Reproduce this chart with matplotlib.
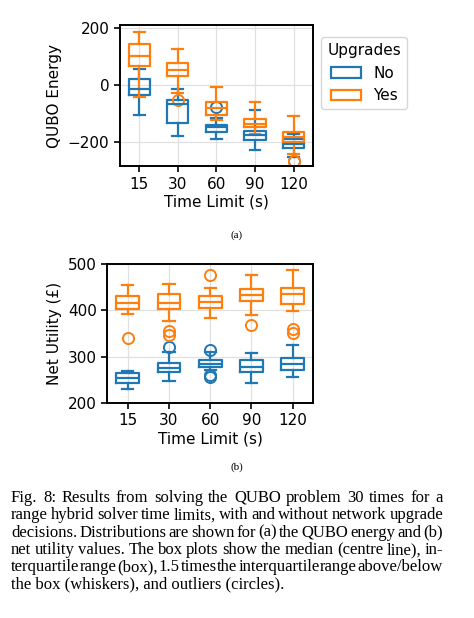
import matplotlib
matplotlib.use('Agg')
import matplotlib.pyplot as plt
from matplotlib.patches import Patch

times = ['15', '30', '60', '90', '120']

# QUBO energy box stats: (whislo, q1, med, q3, whishi), outliers
qubo_no = [(-104, -35, -14, 20, 56), (-180, -133, -68, -51, -12), (-188, -165, -147, -139, -115),
           (-229, -194, -176, -161, -86), (-253, -221, -206, -188, -171)]
qubo_no_fl = [[], [], [-76], [], [-265]]
qubo_yes = [(-40, 67, 103, 145, 186), (-29, 32, 53, 79, 126), (-124, -104, -79, -61, -8),
            (-171, -147, -135, -118, -59), (-241, -200, -182, -165, -108)]
qubo_yes_fl = [[], [-53], [], [], [-265]]

# net utility box stats
util_no = [(230, 243, 254, 264, 269), (248, 267, 276, 287, 309), (272, 278, 285, 292, 310),
           (242, 266, 278, 292, 308), (255, 272, 285, 296, 325)]
util_no_fl = [[], [321], [315, 260, 256], [], []]
util_yes = [(391, 403, 415, 431, 455), (377, 403, 415, 434, 457), (384, 404, 417, 431, 449),
            (390, 421, 433, 445, 475), (399, 413, 434, 447, 486)]
util_yes_fl = [[341], [356, 346], [475], [369], [359, 351]]

caption = ["Fig. 8: Results from solving the QUBO problem 30 times for a",
           "range hybrid solver time limits, with and without network upgrade",
           "decisions. Distributions are shown for (a) the QUBO energy and (b)",
           "net utility values. The box plots show the median (centre line), in-",
           "terquartile range (box), 1.5 times the interquartile range above/below",
           "the box (whiskers), and outliers (circles)."]

plt.rcParams['font.size'] = 11


def stats(vals, fl):
    out = []
    for (lo, q1, m, q3, hi), f in zip(vals, fl):
        out.append(dict(whislo=lo, q1=q1, med=m, q3=q3, whishi=hi, fliers=f))
    return out


def draw(ax, no, nofl, yes, yesfl):
    pos = range(1, len(times) + 1)
    for vals, fl, col in [(no, nofl, 'C0'), (yes, yesfl, 'C1')]:
        lp = dict(color=col, linewidth=1.6)
        ax.bxp(stats(vals, fl), positions=pos, widths=0.55,
               boxprops=lp, whiskerprops=lp, capprops=lp, medianprops=lp,
               flierprops=dict(marker='o', markeredgecolor=col, markerfacecolor='none',
                               markersize=8, markeredgewidth=1.4))
    ax.set_xticks(list(pos))
    ax.set_xticklabels(times)
    ax.set_xlim(0.5, len(times) + 0.5)
    ax.grid(True, color='#e0e0e0', linewidth=0.9)
    ax.set_axisbelow(True)
    ax.set_xlabel('Time Limit (s)', labelpad=2)
    ax.tick_params(width=1.2, length=4)
    for s in ax.spines.values():
        s.set_linewidth(1.4)


fig = plt.figure(figsize=(4.74, 6.18), dpi=100)
ax1 = fig.add_axes([0.253, 0.731, 0.407, 0.228])
draw(ax1, qubo_no, qubo_no_fl, qubo_yes, qubo_yes_fl)
ax1.set_ylim(-285, 210)
ax1.set_yticks([-200, 0, 200])
ax1.set_ylabel('QUBO Energy')
handles = [Patch(facecolor='none', edgecolor='C0', linewidth=1.6, label='No'),
           Patch(facecolor='none', edgecolor='C1', linewidth=1.6, label='Yes')]
ax1.legend(handles=handles, title='Upgrades', loc='upper left', bbox_to_anchor=(1.02, 0.95),
           fontsize=11, title_fontsize=11, handlelength=2.0, borderaxespad=0.3)

ax2 = fig.add_axes([0.226, 0.348, 0.435, 0.225])
draw(ax2, util_no, util_no_fl, util_yes, util_yes_fl)
ax2.set_ylim(200, 500)
ax2.set_yticks([200, 300, 400, 500])
ax2.set_ylabel('Net Utility (£)')

serif = ['Liberation Serif', 'DejaVu Serif']
fig.text(0.5, 1 - 235 / 618, '(a)', ha='center', va='center', family=serif, fontsize=8)
fig.text(0.5, 1 - 467 / 618, '(b)', ha='center', va='center', family=serif, fontsize=8)

# justified caption
x0, x1 = 11 / 474, 443 / 474
fs = 12
fig.canvas.draw()
r = fig.canvas.get_renderer()
for i, line in enumerate(caption):
    y = 1 - (498 + i * 17.3) / 618
    words = line.split(' ')
    if i == len(caption) - 1:
        fig.text(x0, y, line, ha='left', va='center', family=serif, fontsize=fs)
        continue
    ts = [fig.text(0, y, w, ha='left', va='center', family=serif, fontsize=fs) for w in words]
    ws = [t.get_window_extent(r).width / fig.bbox.width for t in ts]
    gap = (x1 - x0 - sum(ws)) / (len(words) - 1)
    x = x0
    for t, w in zip(ts, ws):
        t.set_x(x)
        x += w + gap

fig.savefig('out.png', dpi=100)
